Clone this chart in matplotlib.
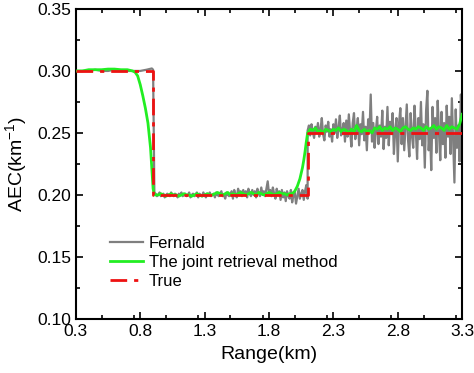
import numpy as np
import matplotlib
matplotlib.use("Agg")
import matplotlib.pyplot as plt
from matplotlib.ticker import MultipleLocator, FixedLocator

plt.rcParams['font.family'] = ['Liberation Sans', 'DejaVu Sans']

# ---------------- data ----------------
# Fernald retrieval
fernald_a_x = [0.30, 0.35, 0.40, 0.45, 0.50, 0.55, 0.60, 0.65, 0.70, 0.75, 0.80, 0.85, 0.89, 0.90]
fernald_a_y = [0.300, 0.300, 0.300, 0.301, 0.300, 0.300, 0.301, 0.300, 0.300, 0.300, 0.300, 0.301, 0.302, 0.301]

fernald_b_y = [
    0.200, 0.201, 0.199, 0.200, 0.202, 0.199, 0.200, 0.201, 0.198, 0.200,
    0.201, 0.200, 0.199, 0.202, 0.200, 0.199, 0.201, 0.200, 0.198, 0.201,
    0.200, 0.202, 0.199, 0.200, 0.201, 0.199, 0.200, 0.202, 0.198, 0.200,
    0.201, 0.199, 0.200, 0.202, 0.198, 0.201, 0.200, 0.199, 0.202, 0.200,
    0.198, 0.201, 0.200, 0.202, 0.199, 0.200, 0.201, 0.198, 0.202, 0.200,
    0.199, 0.201, 0.203, 0.199, 0.200, 0.197, 0.202, 0.200, 0.199, 0.201,
    0.203, 0.197, 0.204, 0.200, 0.198, 0.205, 0.201, 0.203, 0.199, 0.204,
    0.200, 0.203, 0.198, 0.205, 0.201, 0.199, 0.204, 0.200, 0.203, 0.198,
    0.205, 0.201, 0.199, 0.206, 0.200, 0.203, 0.199, 0.205, 0.211, 0.201,
    0.204, 0.199, 0.206, 0.201, 0.197, 0.205, 0.200, 0.203, 0.196, 0.204,
    0.198, 0.202, 0.195, 0.203, 0.199, 0.197, 0.204, 0.194, 0.200, 0.202,
    0.193, 0.199, 0.205, 0.197, 0.201, 0.204, 0.196, 0.203, 0.208, 0.197,
]
fernald_b_x = np.round(np.linspace(0.91, 2.10, len(fernald_b_y)), 3)

fernald_c_y = [
    0.252, 0.256, 0.248, 0.257, 0.251, 0.246, 0.255, 0.250, 0.258, 0.247,
    0.253, 0.262, 0.249, 0.244, 0.256, 0.251, 0.259, 0.247, 0.253, 0.243,
    0.257, 0.250, 0.261, 0.246, 0.254, 0.264, 0.248, 0.252, 0.258, 0.243,
    0.260, 0.247, 0.265, 0.251, 0.239, 0.258, 0.266, 0.245, 0.253, 0.262,
    0.240, 0.257, 0.249, 0.267, 0.244, 0.255, 0.236, 0.261, 0.250, 0.281,
    0.243, 0.258, 0.238, 0.252, 0.263, 0.241, 0.256, 0.247, 0.268, 0.237,
    0.255, 0.246, 0.271, 0.240, 0.259, 0.249, 0.266, 0.233, 0.252, 0.262,
    0.227, 0.258, 0.270, 0.241, 0.262, 0.236, 0.254, 0.273, 0.244, 0.231,
    0.266, 0.248, 0.238, 0.272, 0.252, 0.229, 0.262, 0.245, 0.275, 0.240,
    0.257, 0.222, 0.268, 0.284, 0.236, 0.253, 0.220, 0.271, 0.246, 0.262,
    0.234, 0.276, 0.250, 0.228, 0.267, 0.241, 0.258, 0.230, 0.272, 0.247,
    0.263, 0.233, 0.278, 0.243, 0.210, 0.269, 0.238, 0.256, 0.227, 0.281,
    0.262,
]
fernald_c_x = np.round(np.linspace(2.10, 3.30, len(fernald_c_y)), 3)

# Joint retrieval method
joint_a_x = [0.30, 0.35, 0.40, 0.45, 0.50, 0.55, 0.60, 0.65, 0.70, 0.72, 0.74, 0.76,
             0.78, 0.80, 0.82, 0.84, 0.86, 0.88, 0.89, 0.90, 0.91]
joint_a_y = [0.300, 0.300, 0.301, 0.301, 0.301, 0.3015, 0.3015, 0.301, 0.301, 0.3005, 0.300, 0.299,
             0.296, 0.289, 0.280, 0.270, 0.258, 0.238, 0.222, 0.205, 0.200]

joint_b_y = [
    0.200, 0.200, 0.201, 0.200, 0.199, 0.200, 0.201, 0.200, 0.200, 0.199,
    0.200, 0.201, 0.200, 0.200, 0.199, 0.200, 0.201, 0.200, 0.199, 0.200,
    0.201, 0.200, 0.200, 0.201, 0.202, 0.201, 0.200, 0.201, 0.202, 0.200,
    0.201, 0.200, 0.201, 0.202, 0.201, 0.200, 0.201, 0.202, 0.201, 0.200,
    0.202, 0.201, 0.200, 0.201, 0.202, 0.201, 0.200, 0.201, 0.202, 0.201,
    0.201, 0.200, 0.201,
]
joint_b_x = np.round(np.linspace(0.92, 1.96, len(joint_b_y)), 3)

joint_rise_x = [1.98, 2.00, 2.02, 2.04, 2.06, 2.07, 2.08, 2.09]
joint_rise_y = [0.201, 0.203, 0.207, 0.213, 0.222, 0.228, 0.235, 0.243]

joint_c_y = [
    0.250, 0.253, 0.252, 0.254, 0.251, 0.252, 0.250, 0.253, 0.252, 0.251,
    0.253, 0.252, 0.254, 0.251, 0.253, 0.252, 0.250, 0.253, 0.251, 0.256,
    0.252, 0.251, 0.253, 0.251, 0.252, 0.250, 0.254, 0.253, 0.255, 0.252,
    0.254, 0.253, 0.255, 0.252, 0.254, 0.253, 0.251, 0.254, 0.255, 0.253,
    0.252, 0.254, 0.253, 0.255, 0.254, 0.252, 0.255, 0.253, 0.254, 0.256,
    0.253, 0.255, 0.254, 0.252, 0.256, 0.253, 0.255, 0.254, 0.253, 0.257,
    0.265,
]
joint_c_x = np.round(np.linspace(2.10, 3.30, len(joint_c_y)), 3)

# True profile
true_x = [0.30, 0.90, 0.90, 2.10, 2.10, 3.30]
true_y = [0.30, 0.30, 0.20, 0.20, 0.25, 0.25]

fernald_x = np.concatenate([fernald_a_x, fernald_b_x, fernald_c_x])
fernald_y = np.concatenate([fernald_a_y, fernald_b_y, fernald_c_y])
joint_x = np.concatenate([joint_a_x, joint_b_x, joint_rise_x, joint_c_x])
joint_y = np.concatenate([joint_a_y, joint_b_y, joint_rise_y, joint_c_y])

x_ticks = [0.3, 0.8, 1.3, 1.8, 2.3, 2.8, 3.3]
x_tick_labels = ['0.3', '0.8', '1.3', '1.8', '2.3', '2.8', '3.3']
y_ticks = [0.10, 0.15, 0.20, 0.25, 0.30, 0.35]
y_tick_labels = ['0.10', '0.15', '0.20', '0.25', '0.30', '0.35']

# ---------------- plot ----------------
fig = plt.figure(figsize=(4.74, 3.73), dpi=100)
ax = fig.add_axes([0.160, 0.145, 0.815, 0.831])

ax.plot(fernald_x, fernald_y, color='#7f7f7f', lw=1.6, label='Fernald', zorder=2)
ax.plot(joint_x, joint_y, color='#22ee22', lw=2.0, label='The joint retrieval method', zorder=3)
ax.plot(true_x, true_y, color='#ee1111', lw=2.0, dashes=(6, 2.5, 1.5, 2.5),
        label='True', zorder=4)

ax.set_xlim(0.3, 3.3)
ax.set_ylim(0.10, 0.35)
ax.xaxis.set_major_locator(FixedLocator(x_ticks))
ax.set_xticklabels(x_tick_labels)
ax.xaxis.set_minor_locator(MultipleLocator(0.25))
ax.yaxis.set_major_locator(FixedLocator(y_ticks))
ax.set_yticklabels(y_tick_labels)
ax.yaxis.set_minor_locator(MultipleLocator(0.025))

ax.tick_params(which='both', direction='in', top=True, right=True, width=1.2,
               labelsize=12.5)
ax.tick_params(which='major', length=5)
ax.tick_params(which='minor', length=3)
ax.tick_params(axis='x', pad=4)
for s in ax.spines.values():
    s.set_linewidth(1.5)

ax.set_xlabel('Range(km)', fontsize=14, labelpad=5)
ax.set_ylabel('AEC(km$^{\\mathregular{-1}}$)', fontsize=14, labelpad=5)

leg = ax.legend(loc='lower left', bbox_to_anchor=(0.07, 0.075), frameon=False,
                fontsize=12, handlelength=2.0, handletextpad=0.35,
                labelspacing=0.25, borderaxespad=0)

fig.savefig('out.png', dpi=100)
